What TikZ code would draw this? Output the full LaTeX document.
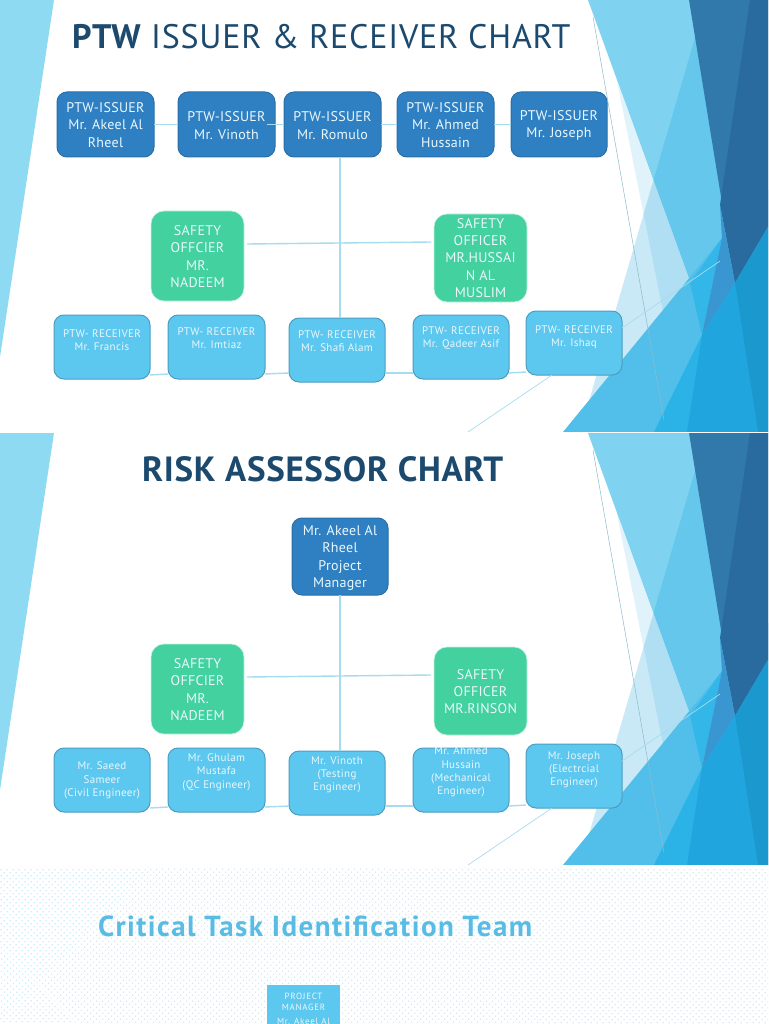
\documentclass[tikz,border=0pt]{standalone}
\usepackage{fontspec}
\setmainfont{PT Sans}
\usetikzlibrary{patterns.meta}
\definecolor{issuerblue}{HTML}{2F80C3}
\definecolor{issueredge}{HTML}{2A6FA6}
\definecolor{safetygreen}{HTML}{42D19F}
\definecolor{recvblue}{HTML}{5CC8F0}
\definecolor{recvedge}{HTML}{4C9DC0}
\definecolor{linkblue}{HTML}{A6DCEF}
\definecolor{titlenavy}{HTML}{1C4A6E}
\definecolor{boxtext}{HTML}{EAF7FC}
\definecolor{veil}{RGB}{0,155,221}
\tikzset{
  x=1pt,y=-1pt,
  boxbase/.style={rectangle,rounded corners=10pt,inner sep=0pt,outer sep=0pt},
  issuerbox/.style={boxbase,fill=issuerblue,draw=issueredge,line width=1pt},
  safetybox/.style={boxbase,rounded corners=13pt,fill=safetygreen,draw=white!70!safetygreen,line width=.6pt},
  recvbox/.style={boxbase,fill=recvblue,draw=recvedge,line width=1pt},
  bigtext/.style={text=boxtext,align=center,inner sep=0pt,font=\fontsize{14}{17.3}\selectfont\addfontfeature{LetterSpace=2}},
  smalltext/.style={text=boxtext,align=center,inner sep=0pt,font=\fontsize{11}{13.3}\selectfont\addfontfeature{LetterSpace=3}},
  conn/.style={draw=linkblue,line width=1.4pt},
  faint/.style={draw=linkblue,line width=.7pt},
  titletext/.style={text=titlenavy,inner sep=0pt,anchor=west},
}
% name, style, x1, y1, x2, y2, text style, text centre y, text
\newcommand\orgbox[9]{%
  \pgfmathsetmacro\bw{#5-#3}\pgfmathsetmacro\bh{#6-#4}%
  \pgfmathsetmacro\cx{(#3+#5)/2}\pgfmathsetmacro\cy{(#4+#6)/2}%
  \node[#2,minimum width=\bw pt,minimum height=\bh pt] (#1) at (\cx,\cy) {};%
  \node[#7] (#1t) at (\cx,#8) {#9};%
}
% slide backdrop in slide-local pixels
\newcommand\facets{%
  \fill[fill={rgb,255:red,143;green,218;blue,243}] (0,0) -- (54,0) -- (0,357) -- cycle;
  \fill[fill={rgb,255:red,127;green,211;blue,240}] (588,0) -- (700,0) -- (760,432) -- (745,432) -- cycle;
  \fill[fill=veil,opacity=.12] (617,81) -- (687,432) -- (745,432) -- cycle;
  \fill[fill=veil,opacity=.21] (580,432) -- (706,0) -- (730,0) -- (760,432) -- cycle;
  \fill[fill={rgb,255:red,82;green,191;blue,234}] (563,432) -- (722,238) -- (768,190) -- (768,432) -- cycle;
  \fill[fill={rgb,255:red,50;green,121;blue,171}] (689,0) -- (768,0) -- (768,227) -- (735,283) -- cycle;
  \fill[fill={rgb,255:red,41;green,107;blue,159}] (750,0) -- (768,0) -- (768,227) -- (735,283) -- (720,205) -- cycle;
  \fill[fill={rgb,255:red,51;green,182;blue,232}] (690,283) -- (722,238) -- (702,335) -- cycle;
  \fill[fill={rgb,255:red,57;green,150;blue,209}] (722,238) -- (720,205) -- (735,283) -- (702,335) -- cycle;
  \fill[fill={rgb,255:red,43;green,178;blue,230}] (654,432) -- (702,335) -- (735,283) -- (768,227) -- (768,432) -- cycle;
  \fill[fill={rgb,255:red,32;green,165;blue,222}] (687,432) -- (702,335) -- (735,283) -- (758,432) -- cycle;
  \fill[fill={rgb,255:red,27;green,152;blue,205}] (735,283) -- (768,227) -- (768,432) -- (758,432) -- cycle;
  \draw[faint,draw=linkblue!85!black,line width=.5pt] (593,17) -- (664,420);
  \draw[draw=white,line width=.8pt] (563,432.5) -- (768,432.5);
}
\begin{document}
\begin{tikzpicture}
\useasboundingbox (0,0) rectangle (768,1024);
\clip (0,0) rectangle (768,1024);
\fill[fill=white] (0,0) rectangle (768,1024);
\facets
\begin{scope}[yshift=-433pt]\facets\end{scope}
\path[pattern={Dots[distance=4pt,radius=.85pt,angle=45]},pattern color={rgb,255:red,200;green,236;blue,248}] (0,867) rectangle (768,1024);

% --- PTW chart
\node[titletext,font=\fontsize{34}{40}\selectfont\addfontfeature{LetterSpace=2.3}] (title1) at (72,37) {\textbf{PTW} ISSUER \& RECEIVER CHART};
\orgbox{a1}{issuerbox}{57}{92}{154}{157}{bigtext}{125}{PTW-ISSUER\\Mr. Akeel Al\\Rheel}
\orgbox{a2}{issuerbox}{178}{92}{275}{157}{bigtext}{125.5}{PTW-ISSUER\\Mr. Vinoth}
\orgbox{a3}{issuerbox}{284}{92}{381}{157}{bigtext}{125.5}{PTW-ISSUER\\Mr. Romulo}
\orgbox{a4}{issuerbox}{397}{92}{494}{157}{bigtext}{125}{PTW-ISSUER\\Mr. Ahmed\\Hussain}
\orgbox{a5}{issuerbox}{511}{92}{607}{157}{bigtext}{125.5}{PTW-ISSUER\\Mr. Joseph}
\orgbox{s1}{safetybox}{151}{211}{244}{301}{bigtext}{256.5}{SAFETY\\OFFCIER\\MR.\\NADEEM}
\orgbox{s2}{safetybox}{434}{214}{527}{302}{bigtext}{258}{SAFETY\\OFFICER\\MR.HUSSAI\\N AL\\MUSLIM}
\orgbox{r1}{recvbox}{54}{315}{150}{379}{smalltext}{340}{PTW- RECEIVER\\Mr. Francis}
\orgbox{r2}{recvbox}{168}{315}{265}{379}{smalltext}{338}{PTW- RECEIVER\\Mr. Imtiaz}
\orgbox{r3}{recvbox}{289}{318}{385}{382}{smalltext}{341}{PTW- RECEIVER\\Mr. Shafi Alam}
\orgbox{r4}{recvbox}{413}{315}{509}{379}{smalltext}{338}{PTW- RECEIVER\\Mr. Qadeer Asif}
\orgbox{r5}{recvbox}{526}{311}{622}{375}{smalltext}{337}{PTW- RECEIVER\\Mr. Ishaq}
\coordinate (f1) at (468,432);
\coordinate (f2) at (720,261);
\coordinate (f3) at (468,865);
\coordinate (f4) at (720,694);
\draw[faint] (f1) -- ([xshift=-22pt]r5.south);
\draw[faint] ([yshift=15pt]r5.east) -- (f2);
\draw[conn] (a1.east) -- (a2.west);
\draw[conn] ([xshift=-8pt]a2.east) -- (a3.west);
\draw[conn] (a3.east) -- (a4.west);
\draw[conn] (a4.east) -- (a5.west);
\draw[conn] ([xshift=7.5pt]a3.south) -- ([xshift=3pt]r3.north);
\draw[conn] ([xshift=3pt,yshift=12pt]s1.east) -- ([xshift=-3pt,yshift=16pt]s2.west);
\draw[conn] ([yshift=-28pt]r1.east) -- ([yshift=-27pt]r2.west);
\draw[conn] ([yshift=-27pt]r2.east) -- ([yshift=-23pt]r3.west);
\draw[conn] ([yshift=-23pt]r3.east) -- ([yshift=-26pt]r4.west);
\draw[conn] ([yshift=-26pt]r4.east) -- ([yshift=-29pt]r5.west);

% --- Risk assessor chart
\node[titletext,font=\fontsize{35}{40}\selectfont\bfseries\addfontfeature{LetterSpace=2}] (title2) at (142,469) {RISK ASSESSOR CHART};
\orgbox{m}{issuerbox}{292}{518}{388}{595}{bigtext}{558}{Mr. Akeel Al\\Rheel\\Project\\Manager}
\orgbox{t1}{safetybox}{151}{644}{244}{734}{bigtext}{689.5}{SAFETY\\OFFCIER\\MR.\\NADEEM}
\orgbox{t2}{safetybox}{434}{647}{527}{735}{bigtext}{691.5}{SAFETY\\OFFICER\\MR.RINSON}
\orgbox{q1}{recvbox}{54}{748}{150}{812}{smalltext}{780.5}{Mr. Saeed\\Sameer\\(Civil Engineer)}
\orgbox{q2}{recvbox}{168}{748}{265}{812}{smalltext}{772}{Mr. Ghulam\\Mustafa\\(QC Engineer)}
\orgbox{q3}{recvbox}{289}{751}{385}{815}{smalltext}{775}{Mr. Vinoth\\(Testing\\Engineer)}
\orgbox{q4}{recvbox}{413}{748}{509}{812}{smalltext}{772}{Mr. Ahmed\\Hussain\\(Mechanical\\Engineer)}
\orgbox{q5}{recvbox}{526}{744}{622}{808}{smalltext}{770}{Mr. Joseph\\(Electrcial\\Engineer)}
\draw[faint] (f3) -- ([xshift=-22pt]q5.south);
\draw[faint] ([yshift=15pt]q5.east) -- (f4);
\draw[conn] (m.south) -- ([xshift=3pt]q3.north);
\draw[conn] ([xshift=3pt,yshift=12pt]t1.east) -- ([xshift=-3pt,yshift=16pt]t2.west);
\draw[conn] ([yshift=-28pt]q1.east) -- ([yshift=-27pt]q2.west);
\draw[conn] ([yshift=-27pt]q2.east) -- ([yshift=-23pt]q3.west);
\draw[conn] ([yshift=-23pt]q3.east) -- ([yshift=-26pt]q4.west);
\draw[conn] ([yshift=-26pt]q4.east) -- ([yshift=-29pt]q5.west);

% --- Critical task team
\node[inner sep=0pt,anchor=west,text={rgb,255:red,88;green,188;blue,228},font=\fontsize{29}{32}\selectfont\bfseries\addfontfeature{LetterSpace=5}] (title3) at (98,926) {Critical Task Identification Team};
\node[rectangle,fill=recvblue,inner sep=0pt,minimum width=73pt,minimum height=60pt] (pm) at (303.5,1015) {};
\node[inner sep=0pt,align=center,text=boxtext,anchor=north,font=\fontsize{9}{11.3}\selectfont\addfontfeature{LetterSpace=8}] (pmt) at (303.5,993) {PROJECT\\MANAGER\\[2pt]Mr. Akeel Al};
\end{tikzpicture}
\end{document}
